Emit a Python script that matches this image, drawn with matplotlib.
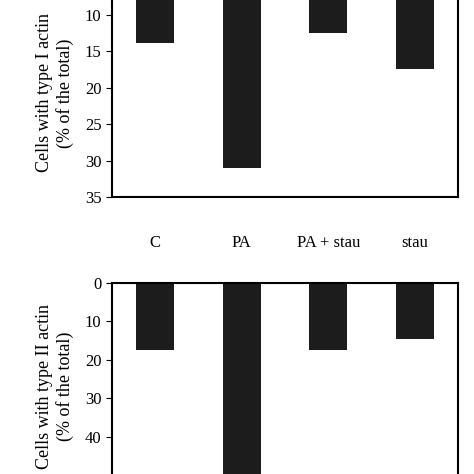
import matplotlib
matplotlib.use("Agg")
import matplotlib.pyplot as plt

plt.rcParams["font.family"] = ["Liberation Serif", "DejaVu Serif"]

categories = ["C", "PA", "PA + stau", "stau"]
top_values = [13.8, 31.0, 12.5, 17.4]
top_ticks = [10, 15, 20, 25, 30, 35]
bottom_values = [17.5, 52.0, 17.5, 14.5]
bottom_ticks = [0, 10, 20, 30, 40]

fig = plt.figure(figsize=(4.74, 4.74), dpi=100)
ax1 = fig.add_axes([0.236, 0.584, 0.73, 0.44])
ax2 = fig.add_axes([0.236, -0.034, 0.73, 0.437])

x = range(len(categories))
for ax, vals, ticks, lim in [(ax1, top_values, top_ticks, (35, 6.4)),
                             (ax2, bottom_values, bottom_ticks, (53.8, 0))]:
    ax.bar(x, vals, width=0.44, color="#1c1c1c")
    ax.set_ylim(*lim)
    ax.set_xlim(-0.5, 3.5)
    ax.set_yticks(ticks)
    ax.set_xticks([])
    ax.tick_params(axis="y", labelsize=12, direction="out", length=4)
    for s in ax.spines.values():
        s.set_linewidth(1.5)

for i, c in enumerate(categories):
    fig.text((112 + (i + 0.5) * 86.5) / 474, 1 - 243 / 474, c,
             ha="center", va="center", fontsize=12)

ax1.set_ylabel("Cells with type I actin\n(% of the total)", fontsize=13, labelpad=8)
ax2.set_ylabel("Cells with type II actin\n(% of the total)", fontsize=13, labelpad=8)

fig.savefig("out.png", dpi=100)
